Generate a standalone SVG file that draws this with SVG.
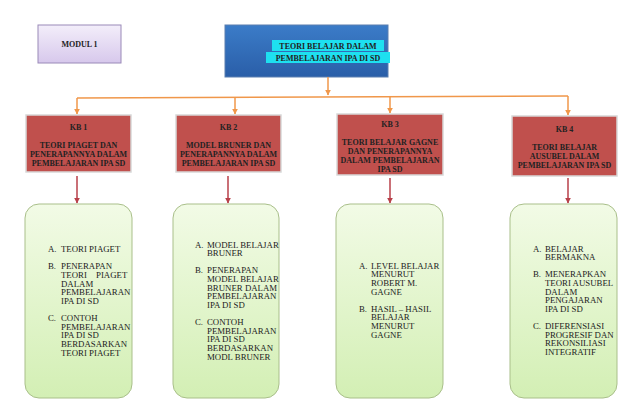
<svg xmlns="http://www.w3.org/2000/svg" width="638" height="417" viewBox="0 0 638 417">
<defs>
<linearGradient id="gp" x1="0" y1="0" x2="0" y2="1"><stop offset="0" stop-color="#f3eefa"/><stop offset="1" stop-color="#d7c8ec"/></linearGradient>
<linearGradient id="gb" x1="0" y1="0" x2="0" y2="1"><stop offset="0" stop-color="#3b7cc8"/><stop offset="1" stop-color="#2a5ea8"/></linearGradient>
<linearGradient id="gg" x1="0" y1="0" x2="0" y2="1"><stop offset="0" stop-color="#f2fbe6"/><stop offset="1" stop-color="#d3efb4"/></linearGradient>
<marker id="ao" viewBox="0 0 10 10" refX="9" refY="5" markerWidth="4" markerHeight="4" orient="auto"><path d="M0,0L10,5L0,10z" fill="#f0974a"/></marker>
<marker id="ar" viewBox="0 0 10 10" refX="9" refY="5" markerWidth="4" markerHeight="4" orient="auto"><path d="M0,0L10,5L0,10z" fill="#b8404a"/></marker>
</defs>
<style>
.t{font-family:"Liberation Serif",serif;font-size:8px;fill:#222}
.l{font-size:8.8px}
.b{font-weight:bold}
.kb{fill:#c0504d;stroke:#d8d8d8;stroke-width:1.5}
.gr{fill:url(#gg);stroke:#a9bf8a;stroke-width:1}
.o{stroke:#f0974a;stroke-width:1.5;fill:none}
.r{stroke:#b8404a;stroke-width:1.5;fill:none}
</style>
<g id="modul"><rect x="38" y="25" width="83" height="38" fill="url(#gp)" stroke="#9a8ab8"/><text class="t b" x="79.5" y="47" text-anchor="middle" font-size="8.5">MODUL 1</text></g>
<g id="main"><rect x="225" y="25" width="163" height="52" fill="url(#gb)" stroke="#5a7fb0"/>
<rect x="272" y="40" width="112" height="11" fill="#1ee0f0"/><rect x="266" y="52" width="124" height="11" fill="#1ee0f0"/>
<text class="t b" x="328" y="48.5" text-anchor="middle" font-size="10">TEORI BELAJAR DALAM</text><text class="t b" x="328" y="60.5" text-anchor="middle" font-size="10">PEMBELAJARAN IPA DI SD</text></g>
<g id="connectors">
<line class="o" x1="328" y1="77" x2="328" y2="95" marker-end="url(#ao)"/>
<polyline class="o" points="77,98 568,96"/>
<line class="o" x1="77" y1="98" x2="77" y2="114" marker-end="url(#ao)"/>
<line class="o" x1="235" y1="97" x2="235" y2="114" marker-end="url(#ao)"/>
<line class="o" x1="390" y1="96" x2="390" y2="113" marker-end="url(#ao)"/>
<line class="o" x1="568" y1="96" x2="568" y2="115" marker-end="url(#ao)"/>
<line class="r" x1="77" y1="176" x2="77" y2="203" marker-end="url(#ar)"/>
<line class="r" x1="228" y1="176" x2="228" y2="203" marker-end="url(#ar)"/>
<line class="r" x1="390" y1="178" x2="390" y2="203" marker-end="url(#ar)"/>
<line class="r" x1="568" y1="178" x2="568" y2="203" marker-end="url(#ar)"/>
</g>
<g id="kb1"><rect class="kb" x="26" y="115" width="105" height="57"/><g class="t b" text-anchor="middle"><text x="78.5" y="130">KB 1</text><text x="78.5" y="148">TEORI PIAGET DAN</text><text x="78.5" y="157">PENERAPANNYA DALAM</text><text x="78.5" y="166">PEMBELAJARAN IPA SD</text></g></g>
<g id="kb2"><rect class="kb" x="176" y="115" width="105" height="57"/><g class="t b" text-anchor="middle"><text x="228.5" y="130">KB 2</text><text x="228.5" y="148">MODEL BRUNER DAN</text><text x="228.5" y="157">PENERAPANNYA DALAM</text><text x="228.5" y="166">PEMBELAJARAN IPA SD</text></g></g>
<g id="kb3"><rect class="kb" x="337" y="114" width="106" height="61"/><g class="t b" text-anchor="middle"><text x="390" y="127">KB 3</text><text x="390" y="145">TEORI BELAJAR GAGNE</text><text x="390" y="154">DAN PENERAPANNYA</text><text x="390" y="163">DALAM PEMBELAJARAN</text><text x="390" y="172">IPA SD</text></g></g>
<g id="kb4"><rect class="kb" x="512" y="116" width="105" height="60"/><g class="t b" text-anchor="middle"><text x="564.5" y="132">KB 4</text><text x="564.5" y="150">TEORI BELAJAR</text><text x="564.5" y="159">AUSUBEL DALAM</text><text x="564.5" y="168">PEMBELAJARAN IPA SD</text></g></g>
<g id="list1"><rect class="gr" x="25" y="204" width="107" height="194" rx="14"/><g class="t l">
<text x="48" y="252">A.</text><text x="61" y="252">TEORI PIAGET</text>
<text x="48" y="269">B.</text><text x="61" y="269">PENERAPAN</text><text x="61" y="278">TEORI</text><text x="96" y="278">PIAGET</text><text x="61" y="287">DALAM</text><text x="61" y="295">PEMBELAJARAN</text><text x="61" y="304">IPA DI SD</text>
<text x="48" y="321">C.</text><text x="61" y="321">CONTOH</text><text x="61" y="330">PEMBELAJARAN</text><text x="61" y="338">IPA DI SD</text><text x="61" y="347">BERDASARKAN</text><text x="61" y="356">TEORI PIAGET</text></g></g>
<g id="list2"><rect class="gr" x="173" y="204" width="106" height="194" rx="14"/><g class="t l">
<text x="195" y="248">A.</text><text x="207" y="248">MODEL BELAJAR</text><text x="207" y="256">BRUNER</text>
<text x="195" y="273">B.</text><text x="207" y="273">PENERAPAN</text><text x="207" y="282">MODEL BELAJAR</text><text x="207" y="291">BRUNER DALAM</text><text x="207" y="299">PEMBELAJARAN</text><text x="207" y="308">IPA DI SD</text>
<text x="195" y="325">C.</text><text x="207" y="325">CONTOH</text><text x="207" y="334">PEMBELAJARAN</text><text x="207" y="342">IPA DI SD</text><text x="207" y="351">BERDASARKAN</text><text x="207" y="360">MODL BRUNER</text></g></g>
<g id="list3"><rect class="gr" x="336" y="204" width="107" height="194" rx="14"/><g class="t l">
<text x="359" y="269">A.</text><text x="371" y="269">LEVEL BELAJAR</text><text x="371" y="277">MENURUT</text><text x="371" y="286">ROBERT M.</text><text x="371" y="295">GAGNE</text>
<text x="359" y="312">B.</text><text x="371" y="312">HASIL – HASIL</text><text x="371" y="320">BELAJAR</text><text x="371" y="329">MENURUT</text><text x="371" y="338">GAGNE</text></g></g>
<g id="list4"><rect class="gr" x="510" y="204" width="107" height="194" rx="14"/><g class="t l">
<text x="533" y="252">A.</text><text x="545" y="252">BELAJAR</text><text x="545" y="260">BERMAKNA</text>
<text x="533" y="277">B.</text><text x="545" y="277">MENERAPKAN</text><text x="545" y="286">TEORI AUSUBEL</text><text x="545" y="295">DALAM</text><text x="545" y="303">PENGAJARAN</text><text x="545" y="312">IPA DI SD</text>
<text x="533" y="329">C.</text><text x="545" y="329">DIFERENSIASI</text><text x="545" y="338">PROGRESIF DAN</text><text x="545" y="346">REKONSILIASI</text><text x="545" y="355">INTEGRATIF</text></g></g>
</svg>
